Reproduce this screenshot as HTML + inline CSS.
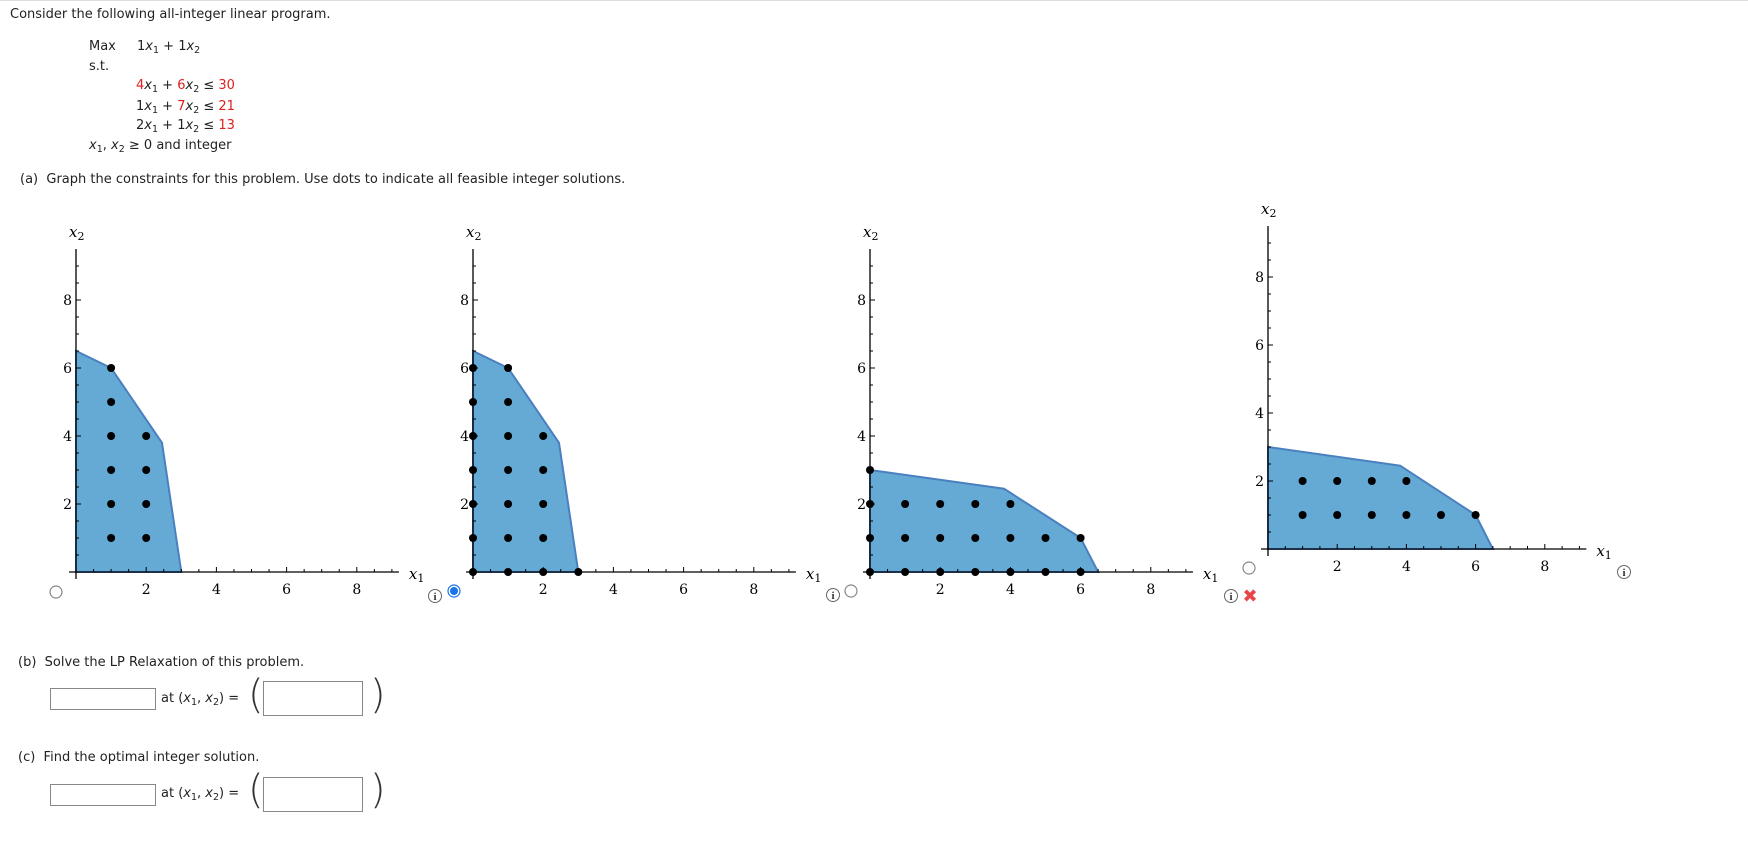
<!DOCTYPE html>
<html><head><meta charset="utf-8">
<style>
body{margin:0;width:1748px;height:841px;background:#fff;font-family:"DejaVu Sans","Liberation Sans",sans-serif;font-size:13px;color:#222;position:relative;overflow:hidden}
.t{position:absolute;white-space:nowrap;line-height:16px}
.red{color:#e0201b}
sub{font-size:9.5px;vertical-align:-3px;line-height:0}
.box{position:absolute;border:1px solid #888;background:#fff}
.paren{position:absolute;font-size:40px;font-weight:100;color:#333;font-family:"DejaVu Sans",sans-serif}
svg{position:absolute;left:0;top:0}
</style></head><body>
<div style="position:absolute;left:0;top:0;width:1748px;height:1px;background:#ddd"></div>
<div class="t" style="left:10px;top:7px">Consider the following all-integer linear program.</div>
<div class="t" style="left:89px;top:39px">Max</div>
<div class="t" style="left:137px;top:39px">1<i>x</i><sub>1</sub> + 1<i>x</i><sub>2</sub></div>
<div class="t" style="left:89px;top:59px">s.t.</div>
<div class="t" style="left:136px;top:78px"><span class="red">4</span><i>x</i><sub>1</sub> + <span class="red">6</span><i>x</i><sub>2</sub> ≤ <span class="red">30</span></div>
<div class="t" style="left:136px;top:99px">1<i>x</i><sub>1</sub> + <span class="red">7</span><i>x</i><sub>2</sub> ≤ <span class="red">21</span></div>
<div class="t" style="left:136px;top:118px">2<i>x</i><sub>1</sub> + 1<i>x</i><sub>2</sub> ≤ <span class="red">13</span></div>
<div class="t" style="left:89px;top:138px"><i>x</i><sub>1</sub>, <i>x</i><sub>2</sub> ≥ 0 and integer</div>
<div class="t" style="left:20px;top:172px">(a) &nbsp;Graph the constraints for this problem. Use dots to indicate all feasible integer solutions.</div>

<svg id="charts" width="1748" height="841"></svg>

<div class="t" style="left:18px;top:655px">(b) &nbsp;Solve the LP Relaxation of this problem.</div>
<div class="box" style="left:50px;top:688px;width:104px;height:20px"></div>
<div class="t" style="left:161px;top:691px">at (<i>x</i><sub>1</sub>, <i>x</i><sub>2</sub>) =</div>
<div class="paren" style="left:248px;top:672px">(</div>
<div class="box" style="left:263px;top:681px;width:98px;height:33px"></div>
<div class="paren" style="left:370px;top:672px">)</div>

<div class="t" style="left:18px;top:750px">(c) &nbsp;Find the optimal integer solution.</div>
<div class="box" style="left:50px;top:784px;width:104px;height:20px"></div>
<div class="t" style="left:161px;top:786px">at (<i>x</i><sub>1</sub>, <i>x</i><sub>2</sub>) =</div>
<div class="paren" style="left:248px;top:767px">(</div>
<div class="box" style="left:263px;top:777px;width:98px;height:33px"></div>
<div class="paren" style="left:370px;top:767px">)</div>

<script>
const polyA = [[0,0],[0,6.5],[1,6],[2.45,3.8],[3,0]];
const polyB = [[0,0],[0,3],[3.82,2.45],[6,1],[6.5,0]];
const dots1 = [[1,1],[1,2],[1,3],[1,4],[1,5],[1,6],[2,1],[2,2],[2,3],[2,4]];
const dots2 = [[0,0],[0,1],[0,2],[0,3],[0,4],[0,5],[0,6],[1,0],[1,1],[1,2],[1,3],[1,4],[1,5],[1,6],[2,0],[2,1],[2,2],[2,3],[2,4],[3,0]];
const dots3 = [[0,0],[0,1],[0,2],[0,3],[1,0],[1,1],[1,2],[2,0],[2,1],[2,2],[3,0],[3,1],[3,2],[4,0],[4,1],[4,2],[5,0],[5,1],[6,0],[6,1]];
const dots4 = [[1,1],[1,2],[2,1],[2,2],[3,1],[3,2],[4,1],[4,2],[5,1],[6,1]];
const tickLabels = [2,4,6,8];

const NS='http://www.w3.org/2000/svg';
const svg=document.getElementById('charts');
function mk(tag,attrs,parent){const e=document.createElementNS(NS,tag);for(const k in attrs)e.setAttribute(k,attrs[k]);(parent||svg).appendChild(e);return e;}

function chart(idx,ox,oy,ux,uy,poly,dots){
  const g=mk('g',{});
  
  
  const X=v=>ox+v*ux, Y=v=>oy-v*uy;
  const p=mk('polygon',{points:poly.map(q=>X(q[0])+','+Y(q[1])).join(' '),fill:'#65a9d5',stroke:'#4a80bf','stroke-width':2},g);
  
  
  mk('line',{x1:ox-7,y1:oy,x2:X(9.2),y2:oy,stroke:'#000','stroke-width':1.3},g);
  mk('line',{x1:ox,y1:oy+7,x2:ox,y2:Y(9.5),stroke:'#000','stroke-width':1.3},g);
  for(let i=1;i<=18;i++){const v=i/2;const big=(i%4==0);
    mk('line',{x1:X(v),y1:oy,x2:X(v),y2:oy-(big?5:3),stroke:'#000','stroke-width':1},g);
    mk('line',{x1:ox,y1:Y(v),x2:ox+(big?5:3),y2:Y(v),stroke:'#000','stroke-width':1},g);}
  tickLabels.forEach(v=>{
    const a=mk('text',{x:X(v),y:oy+22,'text-anchor':'middle','font-family':'DejaVu Serif,serif','font-size':14},g);a.textContent=v;
    const b=mk('text',{x:ox-4,y:Y(v)+5,'text-anchor':'end','font-family':'DejaVu Serif,serif','font-size':14},g);b.textContent=v;});
  const xl=mk('text',{x:X(9.2)+10,y:oy+7,'font-family':'DejaVu Serif,serif','font-size':15,'font-style':'italic'},g);
  xl.innerHTML='x<tspan font-size="11" font-style="normal" dy="3">1</tspan>';
  const yl=mk('text',{x:ox-7,y:Y(9.5)-12,'font-family':'DejaVu Serif,serif','font-size':15,'font-style':'italic'},g);
  yl.innerHTML='x<tspan font-size="11" font-style="normal" dy="3">2</tspan>';
  dots.forEach(d=>{const c=mk('circle',{cx:X(d[0]),cy:Y(d[1]),r:4,fill:'#000'},g);
    
    });
}
chart(1,76,572,35.1,34,polyA,dots1);
chart(2,473,572,35.1,34,polyA,dots2);
chart(3,870,572,35.1,34,polyB,dots3);
chart(4,1268,549,34.6,34,polyB,dots4);

function radio(x,y,sel,n){const c=mk('circle',{cx:x,cy:y,r:6,fill:'#fff',stroke:sel?'#1a73e8':'#888','stroke-width':1.2});
  
  
  if(sel)mk('circle',{cx:x,cy:y,r:4,fill:'#1a73e8'});}
function info(x,y,n){const g=mk('g',{});
  
  
  mk('circle',{cx:x,cy:y,r:6.5,fill:'#fff',stroke:'#666','stroke-width':1},g);
  const t=mk('text',{x:x,y:y+4,'text-anchor':'middle','font-family':'Liberation Serif,serif','font-size':11,'font-weight':'bold',fill:'#333'},g);t.textContent='i';}
radio(56,592,false,'option-1-radio');
info(435,596,'info-icon-1');
radio(454,591,true,'option-2-radio');
info(833,595,'info-icon-2');
radio(851,591,false,'option-3-radio');
radio(1249,568,false,'option-4-radio');
info(1231,596,'info-icon-3');
const x=mk('text',{x:1250,y:602,'text-anchor':'middle','font-size':18,'font-weight':'bold',fill:'#e8464a'});


x.textContent='✖';
info(1624,572,'info-icon-4');
</script>
</body></html>
